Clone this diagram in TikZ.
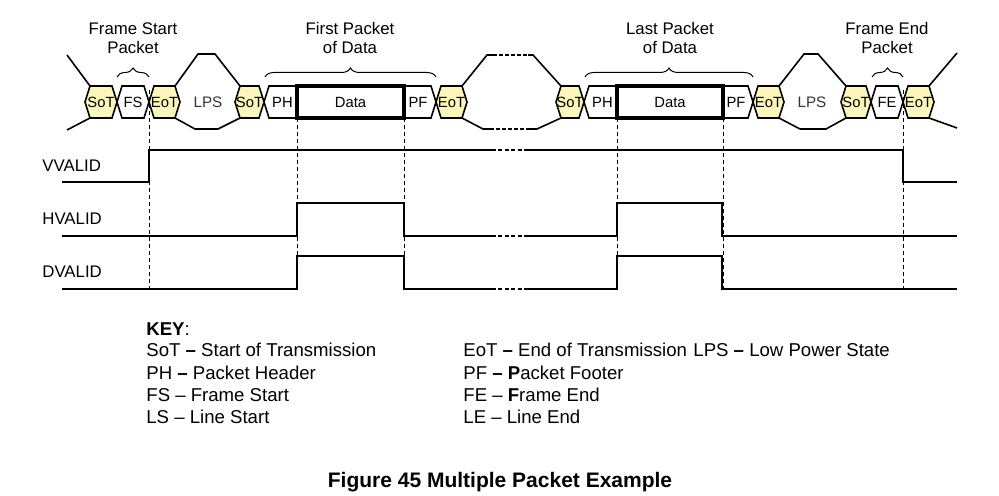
\documentclass[tikz,border=0pt]{standalone}
\usepackage{fontspec}
\setmainfont{Liberation Sans}
\usetikzlibrary{decorations.pathreplacing}

\definecolor{tokfill}{RGB}{252,246,186}

\tikzset{
  seg/.style={draw, line width=0.8pt, line join=miter},
  databox/.style={draw, line width=1.6pt},
  sig/.style={line width=1.2pt},
  sigdash/.style={line width=1.2pt, dash pattern=on 2pt off 1.2pt},
  guide/.style={line width=0.4pt, dash pattern=on 2pt off 1.5pt},
  lpline/.style={line width=0.8pt},
  tok/.style={font=\fontsize{7.4}{8}\selectfont, inner sep=0pt},
  lbl/.style={font=\fontsize{8.4}{9.6}\selectfont, align=center},
  siglbl/.style={font=\fontsize{8.4}{9.6}\selectfont, anchor=west, inner sep=0pt},
  keytxt/.style={font=\fontsize{9.3}{11}\selectfont, anchor=west, inner sep=0pt},
  topbrace/.style={decorate, decoration={brace, amplitude=4.5pt}, line width=0.5pt}
}

\begin{document}
\begin{tikzpicture}[x=0.5pt, y=-0.5pt]
\useasboundingbox (0,0) rectangle (999,496);

% Low power lines
\draw[lpline] (67,55) -- (90,86);
\draw[lpline] (67,130) -- (90,118);
\draw[lpline] (929,86) -- (957,53);
\draw[lpline] (929,118) -- (957,128);
\draw[lpline] (175,86) -- (198,54) -- (215,54) -- (240,86);
\draw[lpline] (175,118) -- (195,129) -- (218,129) -- (240,118);
\draw[lpline] (779,86) -- (804,54) -- (818,54) -- (846,86);
\draw[lpline] (779,118) -- (800,129) -- (826,129) -- (846,118);
\draw[lpline] (462,86) -- (487,55) -- (493,55);
\draw[lpline, dash pattern=on 2pt off 1pt] (493,55) -- (528,55);
\draw[lpline] (528,55) -- (533,55) -- (561,86);
\draw[lpline] (462,118) -- (483,129) -- (490,129);
\draw[lpline, dash pattern=on 2pt off 1pt] (490,129) -- (530,129);
\draw[lpline] (530,129) -- (537,129) -- (561,118);
\node[tok, font=\fontsize{7.6}{8}\selectfont, text=black!80] (lpsA) at (208,102) {LPS};
\node[tok, font=\fontsize{7.6}{8}\selectfont, text=black!80] (lpsB) at (812,102) {LPS};

% Hexagon tokens
\foreach \a/\b/\t/\f/\n in {85/117/SoT/tokfill/sotA, 117/149/FS/white/fs,
    149/180/EoT/tokfill/eotA, 235/264/SoT/tokfill/sotB, 436/467/EoT/tokfill/eotB,
    556/584/SoT/tokfill/sotC, 753/784/EoT/tokfill/eotC, 841/871/SoT/tokfill/sotD,
    871/903/FE/white/fe, 903/934/EoT/tokfill/eotD}{
  \draw[seg, fill=\f] (\a,102) -- (\a+5,86) -- (\b-5,86) -- (\b,102)
    -- (\b-5,118) -- (\a+5,118) -- cycle;
  \node[tok] (\n) at ({(\a+\b)/2},102) {\t};
}

% Packet header / footer
\foreach \a/\b/\n in {264/297/phA, 584/617/phB}{
  \draw[seg] (\a,102) -- (\a+5,86) -- (\b,86) -- (\b,118) -- (\a+5,118) -- cycle;
  \node[tok] (\n) at ({(\a+\b)/2+2},102) {PH};
}
\foreach \a/\b/\n in {404/436/pfA, 723/753/pfB}{
  \draw[seg] (\a,86) -- (\b-5,86) -- (\b,102) -- (\b-5,118) -- (\a,118) -- cycle;
  \node[tok] (\n) at ({(\a+\b)/2-2},102) {PF};
}

% Data
\foreach \a/\b/\n in {297/404/dataA, 617/723/dataB}{
  \draw[databox] (\a,86) rectangle (\b,118);
  \node[tok] (\n) at ({(\a+\b)/2},102) {Data};
}

% Guides
\draw[guide] (149,90) -- (149,290);
\draw[guide] (903,90) -- (903,290);
\foreach \x in {297, 404, 617, 723}
  \draw[guide] (\x,118) -- (\x,290);

% Packet labels
\node[lbl] (fsp) at (133,38) {Frame Start\\Packet};
\node[lbl] (first) at (350,38) {First Packet\\of Data};
\node[lbl] (last) at (670,38) {Last Packet\\of Data};
\node[lbl] (fep) at (887,38) {Frame End\\Packet};
\draw[topbrace] (117,77) -- (149,77);
\draw[topbrace] (265,77) -- (436,77);
\draw[topbrace] (585,77) -- (753,77);
\draw[topbrace] (872,77) -- (903,77);

% Signals
\node[siglbl] (vv) at (42,166) {VVALID};
\node[siglbl] (hv) at (42,219) {HVALID};
\node[siglbl] (dv) at (42,272) {DVALID};
\draw[sig] (62,182) -- (149,182) -- (149,150) -- (492,150);
\draw[sigdash] (492,150) -- (528,150);
\draw[sig] (528,150) -- (903,150) -- (903,182) -- (957,182);
\foreach \lo/\hi in {236/203, 289/256}{
  \draw[sig] (62,\lo) -- (297,\lo) -- (297,\hi) -- (404,\hi) -- (404,\lo) -- (492,\lo);
  \draw[sigdash] (492,\lo) -- (528,\lo);
  \draw[sig] (528,\lo) -- (617,\lo) -- (617,\hi) -- (722,\hi) -- (722,\lo) -- (957,\lo);
}

% Key
\node[keytxt] (key) at (146,329) {\textbf{KEY}:};
\node[keytxt] (kA) at (146,350) {SoT \textbf{\textendash} Start of Transmission};
\node[keytxt] (kB) at (146,373) {PH \textbf{\textendash} Packet Header};
\node[keytxt] (kC) at (146,395) {FS \textendash{} Frame Start};
\node[keytxt] (kD) at (146,417) {LS \textendash{} Line Start};
\node[keytxt] (kE) at (463,350) {EoT \textbf{\textendash} End of Transmission};
\node[keytxt] (kF) at (693,350) {LPS \textbf{\textendash} Low Power State};
\node[keytxt] (kG) at (463,373) {PF \textbf{\textendash} \textbf{P}acket Footer};
\node[keytxt] (kH) at (463,395) {FE \textendash{} \textbf{F}rame End};
\node[keytxt] (kI) at (463,417) {LE \textendash{} Line End};

% Caption
\node[font=\fontsize{10.5}{12}\selectfont\bfseries] (cap) at (500,482) {Figure 45 Multiple Packet Example};
\end{tikzpicture}
\end{document}
